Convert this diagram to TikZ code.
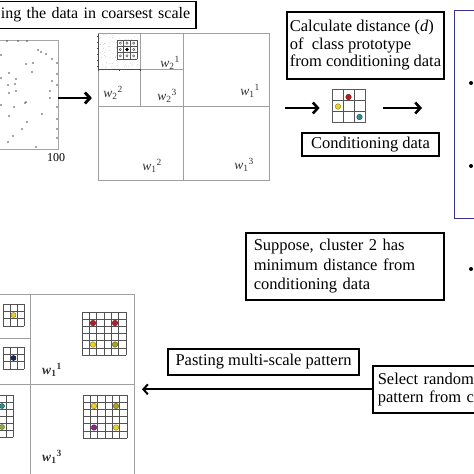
\documentclass[tikz,border=0pt]{standalone}
\usepackage{fontspec}
\setmainfont{Liberation Serif}
\usetikzlibrary{arrows.meta,calc}
\definecolor{boxblue}{RGB}{60,50,150}
\definecolor{dred}{RGB}{178,30,40}
\definecolor{dyel}{RGB}{235,210,40}
\definecolor{dteal}{RGB}{50,140,140}
\definecolor{dnavy}{RGB}{25,40,90}
\definecolor{dolive}{RGB}{170,160,40}
\definecolor{dpurp}{RGB}{140,40,130}
\definecolor{dgreen}{RGB}{140,175,70}
\newcommand{\wsym}[2]{\textit{w}\textsubscript{#1}\textsuperscript{#2}}
\tikzset{
  tbox/.style={draw=black, line width=1.6pt, fill=white, inner sep=3pt, font=\fontsize{16.5}{17.5}\selectfont},
  arr/.style={line width=2.6pt, -{Straight Barb[length=5pt,width=11pt]}},
  arrthin/.style={line width=2pt, -{Straight Barb[length=4.5pt,width=10pt]}},
  qline/.style={draw=gray!75, line width=0.8pt},
  gline/.style={draw=gray!65!black, line width=0.6pt},
  wlab/.style={font=\fontsize{13.5}{13.5}\selectfont, text=black!80, inner sep=0pt},
  sdot/.style={fill=gray!60!black},
  cdot/.style={circle, inner sep=0pt, minimum size=5.5pt, fill=#1, draw=#1!65!black, line width=0.5pt},
}
\begin{document}
\begin{tikzpicture}[x=1pt,y=-1pt]
\useasboundingbox (0,0) rectangle (474,474);
\clip (0,0) rectangle (474,474);
\fill[white] (0,0) rectangle (474,474);

% top-left title box
\node (coarse) [tbox, anchor=north east, minimum height=27pt, text width=228pt, align=right, inner xsep=6pt, font=\fontsize{16}{18}\selectfont] at (197,0.8) {ing the data in coarsest scale};

% scatter plot
\node (scat) [draw=gray!70, line width=0.8pt, minimum width=88pt, minimum height=109pt, inner sep=0pt] at (14,94.5) {};
\foreach \p in {(7,41),(18,41),(27,41),(38,50),(41,52),(46,54),(52,59),(26,64),(33,63),(32,72),(9,73),(16,79),(8,85),(15,84),(16,91),(9,93),(52,81),(50,91),(50,98),(26,102),(25,103),(14,107),(42,114),(9,116),(27,122),(22,129),(13,136),(8,142),(36,147),(1,55),(57,63),(57,74),(57,85),(57,107),(57,119),(57,129),(57,138),(1,78),(1,105)}
  \fill[sdot] \p circle (0.9);
\node (hundred) [font=\fontsize{12}{12}\selectfont, inner sep=0pt] at (56,158) {100};

% quad-tree
\node (quad) [qline, draw, minimum width=170.7pt, minimum height=146.7pt, inner sep=0pt] at (183.65,106.65) {};
\draw[qline] (183.7,33.3) -- (183.7,180);
\draw[qline] (98.3,106.7) -- (269,106.7);
\draw[qline] (140.7,33.3) -- (140.7,106.7);
\draw[qline] (98.3,69.3) -- (183.7,69.3);
% thumbnail
\pgfmathsetseed{7}
\foreach \i in {1,...,90} \fill[gray!55] ({99+40*rnd},{34+34*rnd}) circle (0.4);
\draw[gray!60!black, line width=0.5pt] (98.6,33.5) -- (98.6,69) -- (140.5,69);
\foreach \t in {98.6,119.5,140.4} \draw[gray!60!black, line width=0.4pt] (\t,69) -- (\t,71);
\foreach \t in {36,42,48,54,60,66} \draw[gray!60!black, line width=0.4pt] (98.6,\t) -- (97,\t);
\foreach \k in {0,...,3} {
  \draw[gline, line width=0.5pt] ({117+\k*20/3},40) -- ({117+\k*20/3},59);
  \draw[gline, line width=0.5pt] (117,{40+\k*19/3}) -- (137,{40+\k*19/3});
}
\foreach \a in {0,1,2} \foreach \b in {0,1,2}
  \draw[gray!40!black, line width=0.35pt] ({117+10/3+\a*20/3},{40+19/6+\b*19/3}) circle (1.1);
\fill[black] (127,49.5) circle (1.8);
\node (w21) [wlab] at (170,63) {\wsym{2}{1}};
\node (w22) [wlab] at (113,93) {\wsym{2}{2}};
\node (w23) [wlab] at (167,96) {\wsym{2}{3}};
\node (w11) [wlab] at (250,91) {\wsym{1}{1}};
\node (w12) [wlab] at (152,166) {\wsym{1}{2}};
\node (w13) [wlab] at (244,165) {\wsym{1}{3}};

\coordinate (a1y) at (0,98);
\draw[arr, line width=2.9pt, shorten >=6pt] (scat.east |- a1y) -- (quad.west |- a1y);

% calculate box
\node (calc) [tbox, minimum width=157pt, minimum height=67pt, align=left] at (365.5,45.5) {Calculate distance (\textit{d})\\of\ \ class prototype\\from conditioning data};

% conditioning grid
\node (cgrid) [draw=gray!70!black, line width=0.8pt, minimum size=33pt, inner sep=0pt] at (348.5,106) {};
\draw[gline, line width=0.8pt] (343.5,89.5) -- (343.5,122.5) (354.5,89.5) -- (354.5,122.5)
  (332,100.5) -- (365,100.5) (332,111.5) -- (365,111.5);
\node[cdot=dred] at (348.5,97) {};
\node[cdot=dyel] at (338,106.5) {};
\node[cdot=dteal] at (359.5,117) {};
\coordinate (a2y) at (0,108);
\draw[arr, shorten <=16pt, shorten >=12pt] (quad.east |- a2y) -- (cgrid.west |- a2y);

\node (cond) [tbox, minimum width=137pt, minimum height=23pt] at (370.5,144.5) {Conditioning data};

% blue box
\node (blue) [draw=boxblue, line width=1.3pt, minimum width=80pt, minimum height=208pt, anchor=north west, inner sep=0pt] at (454,10) {};
\draw[arr, shorten <=18pt, shorten >=32pt] (cgrid.east |- a2y) -- (blue.west |- a2y);
\foreach \y in {83,166,269} \fill (471,\y) circle (2);

% suppose box
\node (supp) [tbox, anchor=north west, minimum height=67pt, text width=182pt, align=left, inner xsep=8pt, font=\fontsize{16.5}{19.5}\selectfont] at (245,232) {Suppose, cluster 2 has\\minimum distance from\\conditioning data};

% pasting box
\node (paste) [tbox, minimum width=191pt, minimum height=26pt] at (263.5,362) {Pasting multi-scale pattern};

% select box
\node (sel) [tbox, anchor=north west, minimum height=47pt, text width=150pt, align=left, inner xsep=5pt] at (372,365) {Select random\\pattern from c};

% bottom-left multi-scale grid
\node (bgrid) [qline, draw, anchor=north east, minimum width=170pt, minimum height=200pt, inner sep=0pt] at (135,294) {};
\draw[qline] (30,294) -- (30,480);
\draw[qline] (-5,384) -- (135,384);
\draw[qline] (-5,338) -- (30,338);
\draw[arrthin, shorten >=7pt] (sel.west) -- (bgrid.east |- sel.west);

% small 3x3 grids on the left
\foreach \yy in {304,347} {
  \foreach \k in {0,...,3} {
    \draw[gline] ({3+\k*7},\yy) -- ({3+\k*7},{\yy+22});
    \draw[gline] (3,{\yy+\k*22/3}) -- (24,{\yy+\k*22/3});
  }
}
\node[cdot=dyel, minimum size=5pt] at (13.5,315) {};
\node[cdot=dnavy, minimum size=5pt] at (13.5,358) {};
% partial grid bottom-left
\foreach \k in {0,...,6} \draw[gline] (-2,{395+\k*7}) -- (13,{395+\k*7});
\foreach \xx in {-1,6,13} \draw[gline] (\xx,395) -- (\xx,437);
\node[cdot=dteal, minimum size=5pt] at (2,406) {};
\node[cdot=dgreen, minimum size=5pt] at (2,427) {};

% 6x6 grids
\foreach \k in {0,...,6} {
  \draw[gline] ({82+\k*44/6},312) -- ({82+\k*44/6},355);
  \draw[gline] (82,{312+\k*43/6}) -- (126,{312+\k*43/6});
  \draw[gline] ({83+\k*44/6},395) -- ({83+\k*44/6},438);
  \draw[gline] (83,{395+\k*43/6}) -- (127,{395+\k*43/6});
}
\node[cdot=dred] at (93,323) {};
\node[cdot=dred] at (115,323) {};
\node[cdot=dyel] at (93,344.5) {};
\node[cdot=dolive] at (115,344.5) {};
\node[cdot=dyel] at (94,406) {};
\node[cdot=dolive] at (116,406) {};
\node[cdot=dpurp] at (94,427.5) {};
\node[cdot=dyel] at (116,427.5) {};
\node (bw11) [wlab, font=\bfseries\fontsize{13.5}{13.5}\selectfont] at (52,370) {\wsym{1}{1}};
\node (bw13) [wlab, font=\bfseries\fontsize{13.5}{13.5}\selectfont] at (52,457) {\wsym{1}{3}};
\end{tikzpicture}
\end{document}
